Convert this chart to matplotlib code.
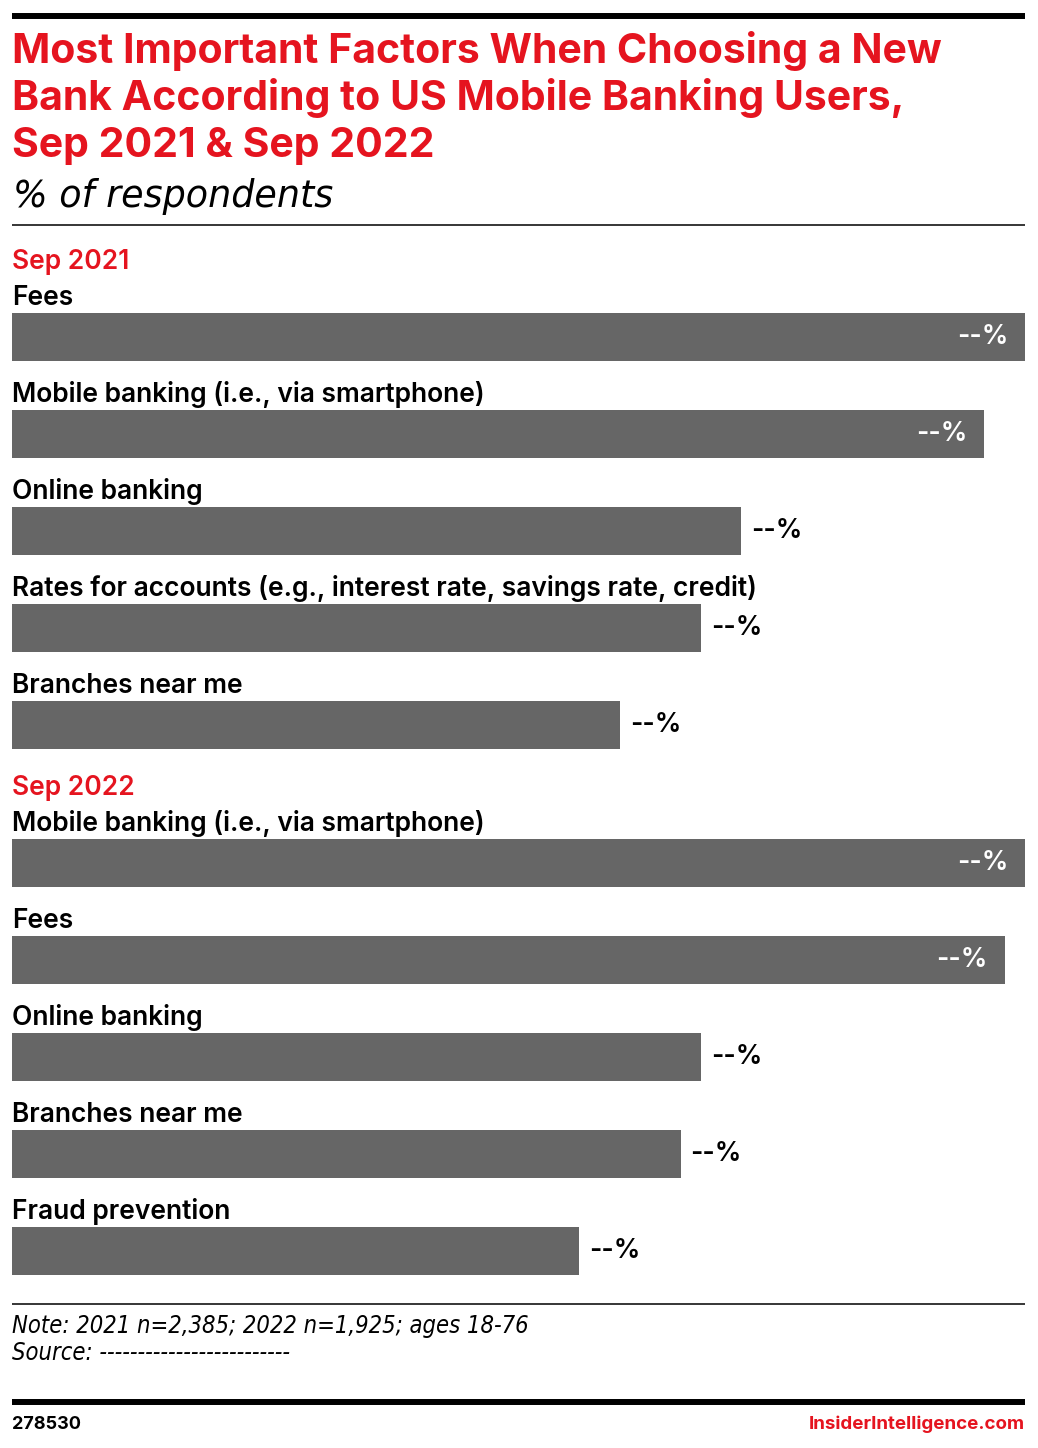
import matplotlib.pyplot as plt
from matplotlib.lines import Line2D

W, H = 1038, 1448
RED = '#e5141f'
BAR = '#666666'

groups = ['Sep 2021', 'Sep 2022']
labels_2021 = ['Fees', 'Mobile banking (i.e., via smartphone)', 'Online banking',
               'Rates for accounts (e.g., interest rate, savings rate, credit)', 'Branches near me']
values_2021 = [50, 48, 36, 34, 30]
labels_2022 = ['Mobile banking (i.e., via smartphone)', 'Fees', 'Online banking',
               'Branches near me', 'Fraud prevention']
values_2022 = [50, 49, 34, 33, 28]
value_text = '--%'
xmax = 50

title_lines = ['Most Important Factors When Choosing a New',
               'Bank According to US Mobile Banking Users,',
               'Sep 2021 & Sep 2022']
subtitle = '% of respondents'
note = 'Note: 2021 n=2,385; 2022 n=1,925; ages 18-76'
source = 'Source: -------------------------'
chart_id = '278530'
brand = 'InsiderIntelligence.com'

FONT = 'Inter'
LABEL_SIZE = 19


def fy(y):
    # pixel row -> figure fraction
    return 1 - y / H


def hline(fig, y, lw):
    fig.add_artist(Line2D([12 / W, 1025 / W], [fy(y), fy(y)], lw=lw, color='black',
                          solid_capstyle='butt'))


fig = plt.figure(figsize=(W / 100, H / 100), dpi=100)

# header
hline(fig, 15.5, 4.3)
for i, line in enumerate(title_lines):
    fig.text(12 / W, fy(63 + 47 * i), line, family=FONT, weight='bold', size=29.5,
             color=RED, va='baseline', ha='left')
fig.text(13 / W, fy(207), subtitle, family='DejaVu Sans', style='italic', size=26.3,
         color='black', va='baseline', ha='left')
hline(fig, 225, 1.1)


def draw_group(top, name, labels, values):
    ax = fig.add_axes([12 / W, fy(top + 485), 1013 / W, 485 / H])
    ax.set_xlim(0, xmax)
    ax.set_ylim(len(labels) - 0.5, -0.5)
    ax.axis('off')
    ypos = list(range(len(labels)))
    ax.barh(ypos, values, height=0.485, color=BAR, left=0)
    ax.text(0, -0.335 - 36 / 97, name, family=FONT, weight='semibold', size=LABEL_SIZE,
            color=RED, va='baseline', ha='left', clip_on=False)
    for y, lab, v in zip(ypos, labels, values):
        ax.text(0, y - 0.335, lab, family=FONT, weight='semibold', size=LABEL_SIZE,
                color='black', va='baseline', ha='left', clip_on=False)
        if v / xmax > 0.9:
            ax.annotate(value_text, (v, y), xytext=(-12.2, 0), textcoords='offset points',
                        ha='right', va='center', color='white', family=FONT,
                        weight='semibold', size=LABEL_SIZE)
        else:
            ax.annotate(value_text, (v, y), xytext=(7.2, 0), textcoords='offset points',
                        ha='left', va='center', color='black', family=FONT,
                        weight='semibold', size=LABEL_SIZE)


draw_group(288.5, groups[0], labels_2021, values_2021)
draw_group(814.5, groups[1], labels_2022, values_2022)

# footer
hline(fig, 1304, 1.1)
fig.text(12 / W, fy(1333), note, family='DejaVu Sans', stretch='condensed', style='italic',
         size=17, va='baseline', ha='left')
fig.text(12 / W, fy(1360), source, family='DejaVu Sans', stretch='condensed', style='italic',
         size=17, va='baseline', ha='left')
hline(fig, 1402, 4.3)
fig.text(12 / W, fy(1429), chart_id, family=FONT, weight='bold', size=13,
         va='baseline', ha='left')
fig.text(1025 / W, fy(1429), brand, family=FONT, weight='bold', size=13.5, color=RED,
         va='baseline', ha='right')

fig.savefig('out.png', dpi=100)
